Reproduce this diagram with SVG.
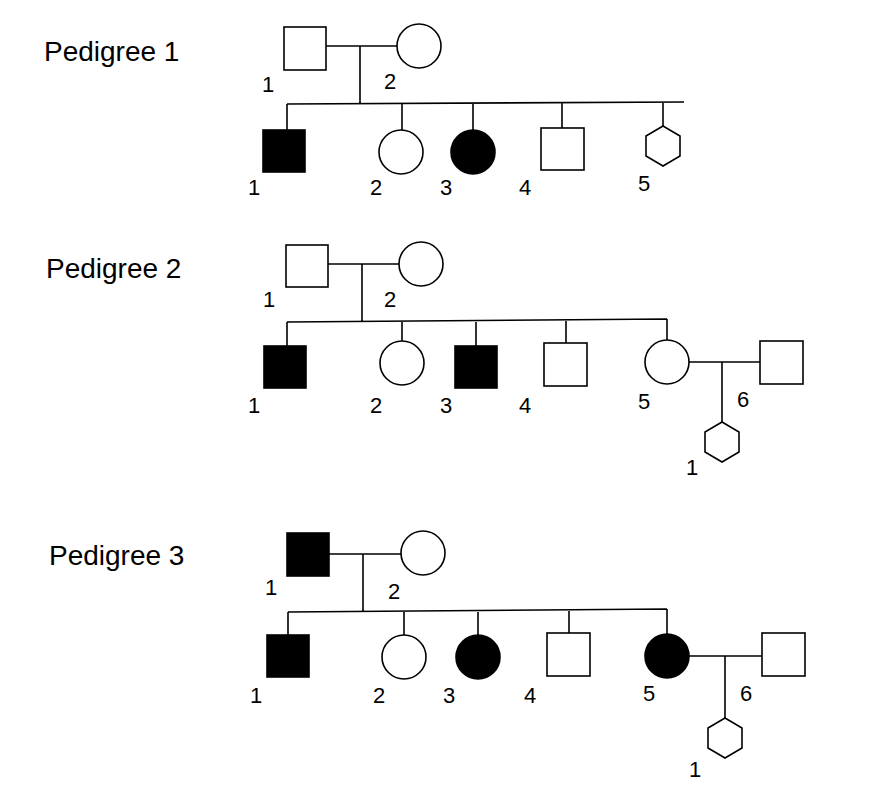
<svg xmlns="http://www.w3.org/2000/svg" width="876" height="808" viewBox="0 0 876 808">
<style>
.s{fill:#fff;stroke:#000;stroke-width:1.6}
.f{fill:#000;stroke:#000;stroke-width:1.6}
.l{stroke:#000;stroke-width:1.6;fill:none}
text{font-family:"Liberation Sans",Arial,sans-serif;font-size:22px;fill:#000}
.t{font-size:28px}
</style>
<rect width="876" height="808" fill="#fff"/>
<g id="connectors">
<path class="l" d="M326 46H397M360 46V104M287 104L684 102M287 104V130M402 104V130M473 104V130M562 103V128M663 102V126"/>
<path class="l" d="M328 264H399M362 264V322M287 322L667 319M287 322V346M402 322V341M476 322V346M566 321V343M667 319V340M689 362H760M722 362V422"/>
<path class="l" d="M329 554H401M363 554V612M288 612L667 609M288 612V635M404 612V635M478 612V635M569 611V633M667 609V635M689 656H762M725 656V718"/>
</g>
<g id="pedigree1">
<text class="t" x="44" y="61">Pedigree 1</text>
<rect class="s" x="284" y="27" width="42" height="43"/><circle class="s" cx="419" cy="46" r="22"/>
<text x="262" y="92">1</text><text x="384" y="89">2</text>
<rect class="f" x="263" y="130" width="42" height="42"/><circle class="s" cx="401" cy="152" r="22"/><circle class="f" cx="473" cy="152" r="22"/>
<rect class="s" x="541" y="128" width="43" height="42"/><polygon class="s" points="663,126 680,136 680,156 663,166 646,156 646,136"/>
<text x="248" y="195">1</text><text x="370" y="195">2</text><text x="440" y="195">3</text><text x="519" y="195">4</text><text x="638" y="191">5</text>
</g>
<g id="pedigree2">
<text class="t" x="46" y="278">Pedigree 2</text>
<rect class="s" x="286" y="245" width="42" height="42"/><circle class="s" cx="421" cy="264" r="22"/>
<text x="263" y="307">1</text><text x="384" y="307">2</text>
<rect class="f" x="264" y="346" width="42" height="42"/><circle class="s" cx="402" cy="363" r="22"/><rect class="f" x="455" y="346" width="42" height="42"/>
<rect class="s" x="544" y="343" width="43" height="43"/><circle class="s" cx="667" cy="362" r="22"/><rect class="s" x="760" y="341" width="43" height="43"/>
<polygon class="s" points="722,422 739,432 739,452 722,462 705,452 705,432"/>
<text x="248" y="413">1</text><text x="370" y="413">2</text><text x="440" y="413">3</text><text x="519" y="413">4</text><text x="638" y="409">5</text><text x="737" y="407">6</text><text x="686" y="475">1</text>
</g>
<g id="pedigree3">
<text class="t" x="49" y="565">Pedigree 3</text>
<rect class="f" x="287" y="533" width="42" height="43"/><circle class="s" cx="423" cy="553" r="22"/>
<text x="265" y="595">1</text><text x="388" y="599">2</text>
<rect class="f" x="267" y="635" width="42" height="42"/><circle class="s" cx="404" cy="657" r="22"/><circle class="f" cx="478" cy="657" r="22"/>
<rect class="s" x="547" y="633" width="43" height="43"/><circle class="f" cx="667" cy="656" r="22"/><rect class="s" x="762" y="633" width="43" height="43"/>
<polygon class="s" points="725,718 742,728 742,748 725,758 708,748 708,728"/>
<text x="250" y="703">1</text><text x="373" y="703">2</text><text x="443" y="703">3</text><text x="524" y="703">4</text><text x="643" y="701">5</text><text x="740" y="701">6</text><text x="689" y="777">1</text>
</g>
</svg>
